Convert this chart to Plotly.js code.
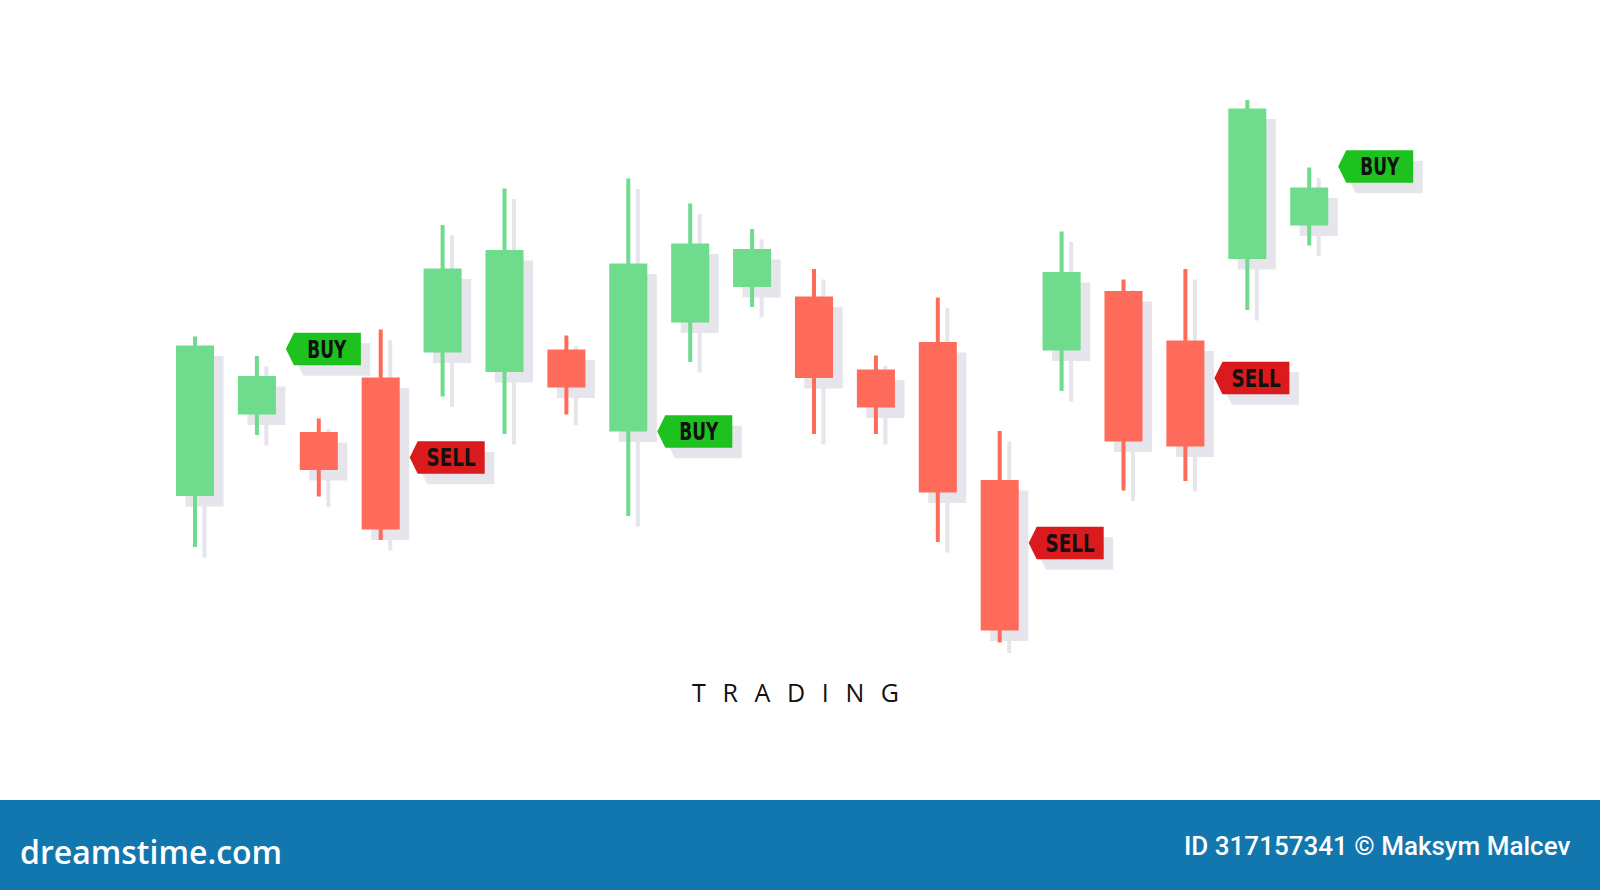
<!DOCTYPE html>
<html>
<head>
<meta charset="utf-8">
<script src="https://cdn.plot.ly/plotly-3.0.1.min.js"></script>
<style>
  html, body { margin: 0; padding: 0; background: #ffffff; }
  #chart { width: 1600px; height: 890px; }
</style>
</head>
<body>
<div id="chart"></div>
<script>
// ---------------- data ----------------
const candleIndex = [0, 1, 2, 3, 4, 5, 6, 7, 8, 9, 10, 11, 12, 13, 14, 15, 16, 17, 18];
const openPrices  = [79.2, 95.5, 91.2, 102.1, 107.9, 104.0, 107.7, 92.1, 113.9, 121.0, 118.3, 103.7, 109.2, 81.6, 108.3, 119.4, 109.5, 126.6, 133.3];
const highPrices  = [110.7, 106.8, 94.3, 112.1, 133.0, 140.3, 110.9, 142.3, 137.3, 132.2, 124.2, 106.9, 118.5, 91.8, 131.7, 122.1, 124.2, 158.0, 144.5];
const lowPrices   = [68.6, 91.0, 78.7, 70.0, 98.7, 91.2, 95.1, 74.8, 105.6, 116.6, 91.2, 91.2, 69.6, 49.5, 99.8, 79.9, 81.8, 116.0, 128.9];
const closePrices = [108.5, 102.4, 84.4, 72.5, 123.9, 127.6, 100.9, 124.9, 128.9, 127.8, 102.8, 96.9, 79.9, 52.3, 123.2, 90.1, 89.1, 155.9, 140.1];

const signalCandles = [1, 3, 7, 13, 16, 18];
const signalTypes   = ['BUY', 'SELL', 'BUY', 'SELL', 'SELL', 'BUY'];
const signalPrices  = [108.2, 86.5, 91.7, 69.4, 102.4, 144.7];

const chartTitle   = 'TRADING';
const footerBrand  = 'dreamstime.com';
const footerCredit = 'ID 317157341 \u00A9 Maksym Malcev';

// ---------------- styling / geometry ----------------
const W = 1600, H = 890;
const slotPx = 61.9, firstCenterPx = 195, pxPerUnit = 5;
const shadowDx = 9.5, shadowDy = 10.5;

const GREEN = '#6edc8c', RED = '#ff6b5b', SHADOW = '#e5e5eb';
const BUY_BG = '#1ec21f', SELL_BG = '#da1a1c';

const mainX = [-firstCenterPx / slotPx, (W - firstCenterPx) / slotPx];
const mainY = [0, H / pxPerUnit];
const shadowX = [mainX[0] - shadowDx / slotPx, mainX[1] - shadowDx / slotPx];
const shadowY = [mainY[0] + shadowDy / pxPerUnit, mainY[1] + shadowDy / pxPerUnit];

function candleTrace(xa, ya, up, down) {
  return {
    type: 'candlestick',
    x: candleIndex, open: openPrices, high: highPrices, low: lowPrices, close: closePrices,
    xaxis: xa, yaxis: ya,
    whiskerwidth: 0,
    increasing: { line: { color: up, width: 4 }, fillcolor: up },
    decreasing: { line: { color: down, width: 4 }, fillcolor: down },
    hoverinfo: 'skip', showlegend: false
  };
}

const traces = [
  candleTrace('x', 'y', SHADOW, SHADOW),
  candleTrace('x2', 'y2', GREEN, RED)
];

const labelPath = 'M29,0 L37,16.3 L104,16.3 L104,-16.3 L37,-16.3 Z';
const shapes = [];
const annotations = [];

signalCandles.forEach((c, k) => {
  shapes.push({
    type: 'path', xsizemode: 'pixel', ysizemode: 'pixel',
    xanchor: c, yanchor: signalPrices[k], path: labelPath,
    xref: 'x', yref: 'y', fillcolor: SHADOW,
    line: { width: 0 }, layer: 'above'
  });
});
signalCandles.forEach((c, k) => {
  shapes.push({
    type: 'path', xsizemode: 'pixel', ysizemode: 'pixel',
    xanchor: c, yanchor: signalPrices[k], path: labelPath,
    xref: 'x2', yref: 'y2',
    fillcolor: signalTypes[k] === 'BUY' ? BUY_BG : SELL_BG,
    line: { width: 0 }, layer: 'above'
  });
  annotations.push({
    xref: 'x2', yref: 'y2', x: c, y: signalPrices[k], xshift: 70.5, yshift: 0,
    text: signalTypes[k], showarrow: false, xanchor: 'center', yanchor: 'middle',
    font: { family: 'Liberation Sans Narrow, DejaVu Sans Condensed, Arial Narrow, sans-serif', size: 25, color: '#111111', weight: 700 }
  });
});

// footer band
shapes.push({
  type: 'rect', xref: 'paper', yref: 'paper', x0: 0, x1: 1, y0: 0, y1: 90 / H,
  fillcolor: '#1177ae', line: { width: 0 }, layer: 'above'
});

annotations.push({
  xref: 'paper', yref: 'paper', x: 795.5 / W, y: (H - 692) / H,
  text: chartTitle.split('').join('\u2002\u2009'), showarrow: false,
  xanchor: 'center', yanchor: 'middle',
  font: { family: 'Open Sans, Noto Sans, sans-serif', size: 25, color: '#111111' }
});
annotations.push({
  xref: 'paper', yref: 'paper', x: 18 / W, y: (H - 851) / H,
  text: footerBrand, showarrow: false, xanchor: 'left', yanchor: 'middle',
  font: { family: 'Open Sans, Noto Sans, sans-serif', size: 32, color: '#ffffff', weight: 600 }
});
annotations.push({
  xref: 'paper', yref: 'paper', x: 1572 / W, y: (H - 846) / H,
  text: footerCredit, showarrow: false, xanchor: 'right', yanchor: 'middle',
  font: { family: 'Roboto, sans-serif', size: 26, color: '#ffffff', weight: 500 }
});

const hiddenAxis = { visible: false, showgrid: false, zeroline: false, fixedrange: true };

const layout = {
  width: W, height: H,
  margin: { l: 0, r: 0, t: 0, b: 0, pad: 0 },
  paper_bgcolor: '#ffffff', plot_bgcolor: '#ffffff',
  showlegend: false, hovermode: false,
  boxgap: 0.45, boxgroupgap: 0,
  xaxis: Object.assign({}, hiddenAxis, { range: shadowX, rangeslider: { visible: false } }),
  yaxis: Object.assign({}, hiddenAxis, { range: shadowY }),
  xaxis2: Object.assign({}, hiddenAxis, { range: mainX, overlaying: 'x', rangeslider: { visible: false } }),
  yaxis2: Object.assign({}, hiddenAxis, { range: mainY, overlaying: 'y' }),
  shapes: shapes,
  annotations: annotations
};

Plotly.newPlot('chart', traces, layout, { displayModeBar: false, staticPlot: true }).then(gd => {
  // condense the BUY / SELL label text to match the narrow typeface of the reference
  const texts = gd.querySelectorAll('.annotation-text');
  signalTypes.forEach((t, k) => {
    const el = texts[k];
    if (!el) return;
    el.setAttribute('textLength', t === 'BUY' ? 39 : 49);
    el.setAttribute('lengthAdjust', 'spacingAndGlyphs');
  });
});
</script>
</body>
</html>
